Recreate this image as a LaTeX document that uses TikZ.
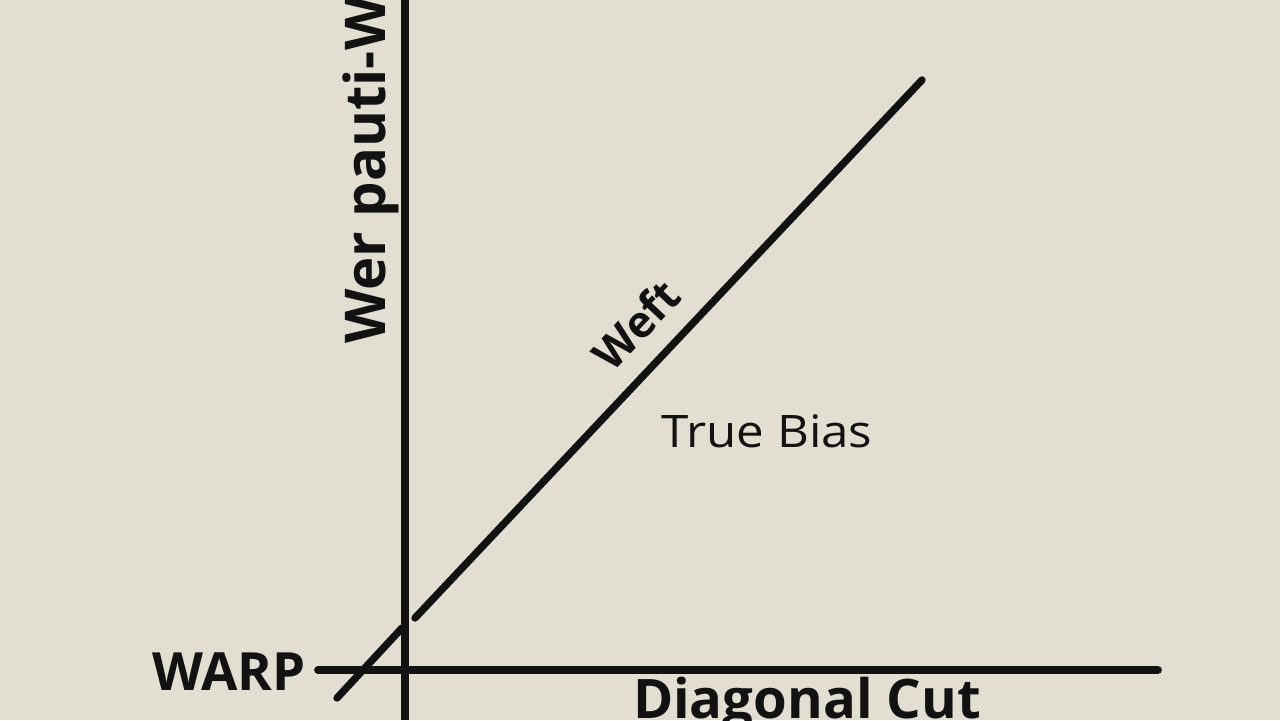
\documentclass[tikz,border=0pt]{standalone}
\usepackage{fontspec}
\setmainfont{Open Sans}
\definecolor{bg}{RGB}{226,222,210}
\definecolor{ink}{RGB}{18,18,18}
\begin{document}
\begin{tikzpicture}[x=0.02cm,y=0.02cm,
  axisline/.style={draw=ink,line width=4.4pt},
  biasline/.style={draw=ink,line width=4.2pt,line cap=round},
  lbl/.style={text=ink,inner sep=0pt}]
\fill[bg] (0,0) rectangle (1280,720);
\useasboundingbox (0,0) rectangle (1280,720);
% axes
\coordinate (vtop) at (405,720);
\coordinate (vbot) at (405,0);
\coordinate (hl) at (318,50);
\coordinate (hr) at (1158,50);
\draw[axisline] (vbot) -- (vtop);
\draw[axisline,line cap=round] (hl) -- (hr);
% diagonal
\coordinate (d1) at (337,22);
\coordinate (d2) at (402,92);
\coordinate (d3) at (415,102);
\coordinate (d4) at (922,640);
\draw[biasline] (d1) -- (d2);
\draw[biasline] (d3) -- (d4);
% labels
\node[lbl,anchor=base,font=\fontsize{30}{36}\selectfont\bfseries] (warp) at (229,30) {WARP};
\node[lbl,anchor=base,font=\fontsize{31}{36}\selectfont\bfseries] (diag) at (807,2) {Diagonal Cut};
\node[lbl,anchor=base,font=\fontsize{25.5}{30}\selectfont] (bias) at (767,272) {\scalebox{1.1}[1]{True Bias}};
\node[lbl,anchor=base west,rotate=90,font=\fontsize{32}{40}\selectfont\bfseries] (vert) at (385,376) {Wer pauti-Wa};
\node[lbl,anchor=base,rotate=46.7,font=\fontsize{25}{30}\selectfont\bfseries] (weft) at (648,384) {Weft};
\end{tikzpicture}
\end{document}
